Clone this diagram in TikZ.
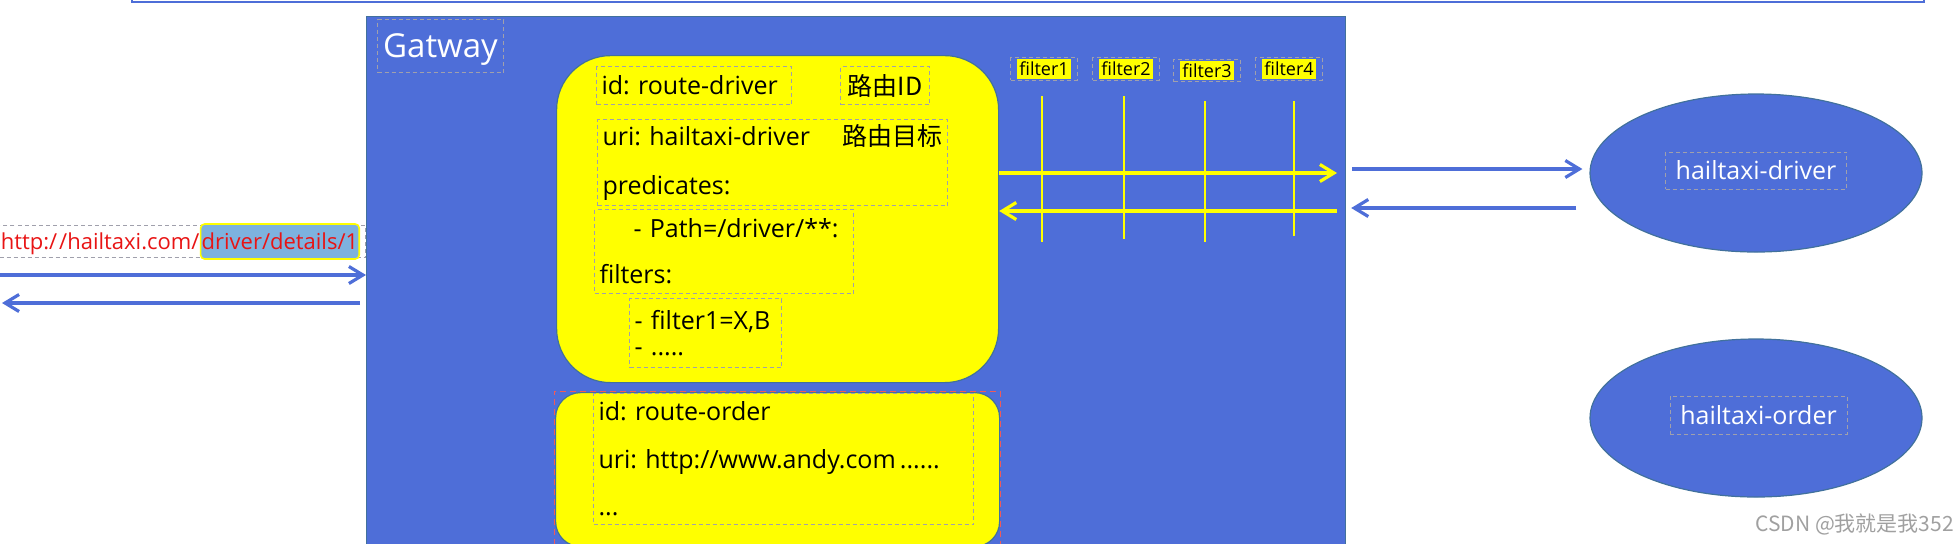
\documentclass[tikz,border=0pt]{standalone}
\usepackage{fontspec}
\setmainfont{Open Sans}
\newfontfamily\cjk{Noto Sans CJK SC}
\usetikzlibrary{positioning,fit,shapes.geometric,arrows.meta}
\frenchspacing

\definecolor{gwblue}{RGB}{78,110,216}
\definecolor{gwedge}{RGB}{65,113,156}
\definecolor{dashgray}{RGB}{160,160,172}
\definecolor{urlred}{RGB}{232,20,20}
\definecolor{hlblue}{RGB}{125,178,222}
\definecolor{markgray}{RGB}{160,160,160}
\definecolor{fyellow}{RGB}{255,255,0}

\tikzset{
  txt/.style={font=\fontsize{12.5}{#1}\selectfont},
  txt/.default=15,
  dbox/.style={draw=dashgray, dash pattern=on 2pt off 1.5pt, line width=0.5pt,
    inner xsep=2.5pt, inner ysep=0pt, align=left, anchor=north west},
  route/.style={draw=gwedge, fill=fyellow, line width=0.6pt, anchor=north west},
  barrow/.style={draw=gwblue, line width=1.8pt,
    -{Straight Barb[length=7pt,width=8.5pt,line width=1.6pt]}},
  yarrow/.style={draw=fyellow, line width=1.7pt,
    -{Straight Barb[length=7pt,width=8.5pt,line width=1.6pt]}},
  fline/.style={draw=fyellow, line width=1pt},
  fhl/.style={fill=fyellow, inner xsep=1pt, inner ysep=1.5pt,
    font=\fontsize{9}{10}\selectfont},
  svc/.style={ellipse, draw=gwedge, fill=gwblue, line width=0.6pt,
    minimum width=166pt, minimum height=79pt},
}

\begin{document}
\begin{tikzpicture}[x=0.5pt,y=-0.5pt]
  \useasboundingbox (0,0) rectangle (1959,543);
  \draw[gwblue, line width=1pt] (132,-20) -- (132,1.5) -- (1924,1.5) -- (1924,-20);

  % gateway
  \node[draw=gwedge, fill=gwblue, line width=0.6pt, anchor=north west,
    minimum width=489.5pt, minimum height=280pt] (gw) at (366,16) {};
  \node[dbox, text=white, font=\fontsize{16.5}{18}\selectfont, text depth=0pt,
    minimum width=63pt, minimum height=26.5pt] (gwname) at (377,19) {Gatway};

  % route-driver
  \node[route, rounded corners=27pt, minimum width=221pt, minimum height=163.5pt] (rd) at (556,55) {};
  \node[dbox, txt, text width=92.5pt, minimum height=19pt] (rdid) at (596,66) {id: route-driver};
  \node[dbox, txt, minimum width=44.5pt, minimum height=19pt] (rdidlbl) at (840,66) {\cjk 路由ID};
  \node[dbox, txt=24.5, text width=170pt, minimum height=43pt] (rduri) at (597,119)
    {uri: hailtaxi-driver\hfill{\cjk 路由目标}\\predicates:};
  \node[dbox, txt=23, text width=124.5pt, minimum height=42pt] (rdpath) at (594,209)
    {\hspace*{17pt}- Path=/driver/**:\\filters:};
  \node[dbox, txt=13, text width=71pt, minimum height=34.5pt] (rdflt) at (629,298)
    {- filter1=X,B\\- .....};

  % route-order
  \node[route, rounded corners=12.5pt, minimum width=222pt, minimum height=77pt] (ro) at (555,392) {};
  \node[draw=urlred!70, densely dashed, line width=0.4pt, anchor=north west,
    minimum width=223pt, minimum height=80pt] (rosel) at (554,391) {};
  \node[dbox, txt=23.75, text width=185pt, minimum height=65.5pt] (rotxt) at (593,393)
    {id: route-order\\uri: http://www.andy.com\,......\\...};

  % filters
  \foreach \i/\x/\y in {1/1044/69, 2/1126/69, 3/1207/70.5, 4/1289/69} {
    \node[fhl] (f\i) at (\x,\y) {filter\i};
    \node[dbox, anchor=center, fit=(f\i), inner xsep=3pt, inner ysep=0.5pt] (fb\i) {};
  }
  \foreach \x/\yt/\yb in {1042/96/242, 1124/96/239, 1205/101/242, 1294/101/236}
    \draw[fline] (\x,\yt) -- (\x,\yb);
  \draw[yarrow] (rd.east |- 0,173) -- (1337,173);
  \draw[yarrow] (1337,211) -- (rd.east |- 0,211);

  % request
  \node[dbox, anchor=north east, minimum width=190pt, minimum height=16pt] (urlbox) at (366,225) {};
  \node[fill=hlblue, draw=fyellow, line width=0.8pt, rounded corners=2pt, text=urlred,
    font=\fontsize{11}{13}\selectfont, inner xsep=0.5pt, minimum height=17.5pt,
    anchor=east] (urlpath) at (360,241.5) {driver/details/1};
  \node[text=urlred, font=\fontsize{11}{13}\selectfont, inner sep=0pt,
    anchor=base east] (urlhost) at (urlpath.base west) {http:/\kern1pt/hailtaxi.com/};
  \draw[barrow] (0,275) -- (gw.west |- 0,275);
  \draw[barrow, shorten <=3pt] (gw.west |- 0,303) -- (2,303);

  % services
  \node[svc] (drv) at (1756,173) {};
  \node[svc] (ord) at (1756,418) {};
  \node[dbox, anchor=center, text=white, txt, minimum width=90.5pt, minimum height=18.5pt]
    (drvname) at ([yshift=1.25pt]drv.center) {hailtaxi-driver};
  \node[dbox, anchor=center, text=white, txt, minimum width=88.5pt, minimum height=19pt]
    (ordname) at ([yshift=1.5pt,xshift=1.25pt]ord.center) {hailtaxi-order};
  \draw[barrow, shorten <=3pt, shorten >=3.5pt] (gw.east |- 0,169) -- (drv.west |- 0,169);
  \draw[barrow, shorten <=6.5pt, shorten >=2.5pt] (drv.west |- 0,208) -- (gw.east |- 0,208);

  \node[anchor=base west, text=markgray, font=\cjk\fontsize{10.5}{12}\selectfont, inner sep=0pt]
    (mark) at (1755,531) {CSDN @我就是我352};
\end{tikzpicture}
\end{document}
